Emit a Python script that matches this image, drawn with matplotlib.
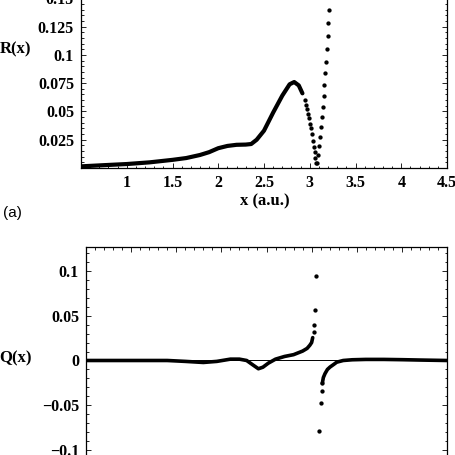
import matplotlib
matplotlib.use("Agg")
import matplotlib.pyplot as plt
from matplotlib.ticker import FixedLocator, FixedFormatter, AutoMinorLocator

# ---- data ----
# R(x), dense part (drawn as a thick line of merged dots)
r_line_x = [0.51, 0.75, 1.0, 1.25, 1.5, 1.65, 1.8, 1.9, 2.0, 2.1, 2.2, 2.3, 2.36,
            2.42, 2.5, 2.6, 2.7, 2.78, 2.83, 2.88, 2.92]
r_line_y = [0.0015, 0.0025, 0.0035, 0.005, 0.0072, 0.0088, 0.0115, 0.014, 0.0175,
            0.0195, 0.0205, 0.0207, 0.0212, 0.025, 0.033, 0.049, 0.064, 0.074,
            0.076, 0.073, 0.066]
# R(x), sparse dots around the zero
r_dot_x = [2.945, 2.958, 2.970, 2.980, 2.991, 3.002, 3.013, 3.024,
           3.035, 3.045, 3.054, 3.061, 3.067,
           3.078, 3.089, 3.097, 3.108, 3.119, 3.133, 3.140, 3.151, 3.159, 3.170,
           3.176, 3.187, 3.195, 3.202, 3.213]
r_dot_y = [0.060, 0.056, 0.052, 0.048, 0.044, 0.039, 0.035, 0.030,
           0.024, 0.019, 0.014, 0.0086, 0.004,
           0.0042, 0.0115, 0.0197, 0.0276, 0.0359, 0.0450, 0.0539, 0.0633, 0.0733,
           0.0836, 0.0939, 0.1053, 0.1168, 0.1283, 0.140]

# Q(x), dense parts on both sides of the pole
q_left_x = [0.5, 1.0, 1.4, 1.6, 1.8, 1.95, 2.1, 2.2, 2.28, 2.35, 2.41, 2.46, 2.52,
            2.6, 2.7, 2.8, 2.9, 2.95, 2.98, 3.0, 3.012]
q_left_y = [0.0, 0.0, 0.0, -0.001, -0.0022, -0.001, 0.0015, 0.0015, 0.0, -0.005,
            -0.0092, -0.0075, -0.003, 0.0015, 0.0045, 0.0065, 0.0105, 0.0135,
            0.017, 0.020, 0.0255]
q_right_x = [3.118, 3.13, 3.148, 3.175, 3.204, 3.25, 3.278, 3.35, 3.45, 3.6, 3.8,
             4.0, 4.2, 4.5]
q_right_y = [-0.0256, -0.019, -0.0147, -0.010, -0.0073, -0.004, -0.0019, 0.0,
             0.0008, 0.0012, 0.0012, 0.0009, 0.0005, 0.0]
# Q(x), sparse dots next to the pole
q_dot_x = [3.023, 3.030, 3.041, 3.049, 3.085, 3.100, 3.112, 3.118]
q_dot_y = [0.0317, 0.040, 0.0565, 0.0947, -0.079, -0.0475, -0.034, -0.0256]

x_ticks = [1, 1.5, 2, 2.5, 3, 3.5, 4, 4.5]
x_labels = ["1", "1.5", "2", "2.5", "3", "3.5", "4", "4.5"]
r_ticks = [0.025, 0.05, 0.075, 0.1, 0.125, 0.15]
r_labels = ["0.025", "0.05", "0.075", "0.1", "0.125", "0.15"]
q_ticks = [-0.1, -0.05, 0, 0.05, 0.1]
q_labels = ["\u22120.1", "\u22120.05", "0", "0.05", "0.1"]

W = H = 455.0
serif = "Liberation Serif"
tick_font = dict(family=serif, weight="bold", size=11.5)

fig = plt.figure(figsize=(4.55, 4.55), dpi=100)


def px_axes(left, right, top, bottom):
    return fig.add_axes([left / W, 1 - bottom / H, (right - left) / W, (bottom - top) / H])


def style(ax, xt, xl, yt, yl):
    ax.xaxis.set_major_locator(FixedLocator(xt))
    ax.xaxis.set_major_formatter(FixedFormatter(xl))
    ax.yaxis.set_major_locator(FixedLocator(yt))
    ax.yaxis.set_major_formatter(FixedFormatter(yl))
    ax.xaxis.set_minor_locator(AutoMinorLocator(5))
    ax.yaxis.set_minor_locator(AutoMinorLocator(5))
    ax.tick_params(which="both", direction="in", top=True, right=True, width=0.6)
    ax.tick_params(which="major", length=3.5, pad=5)
    ax.tick_params(which="minor", length=1.8)
    for lab in ax.get_xticklabels() + ax.get_yticklabels():
        lab.set_fontproperties(matplotlib.font_manager.FontProperties(**tick_font))
    for s in ax.spines.values():
        s.set_linewidth(0.9)


# top panel (its top edge lies above the picture)
ax1 = px_axes(81, 447, -13, 168)
ax1.plot(r_line_x, r_line_y, color="black", lw=3.0, solid_capstyle="round")
ax1.plot(r_dot_x, r_dot_y, "o", color="black", ms=3.1, mew=0)
ax1.set_xlim(0.5, 4.5)
ax1.set_ylim(0, 0.16)
style(ax1, x_ticks, x_labels, r_ticks, r_labels)

# bottom panel (its bottom edge lies below the picture)
ax2 = px_axes(86, 447, 247.5, 469)
ax2.axhline(0, color="black", lw=0.7)
ax2.plot(q_left_x, q_left_y, color="black", lw=2.6, solid_capstyle="round")
ax2.plot(q_right_x, q_right_y, color="black", lw=2.6, solid_capstyle="round")
ax2.plot(q_dot_x, q_dot_y, "o", color="black", ms=3.1, mew=0)
ax2.set_xlim(0.5, 4.5)
ax2.set_ylim(-0.121, 0.126)
style(ax2, x_ticks, x_labels, q_ticks, q_labels)

label_font = dict(family=serif, weight="bold", size=12, ha="center", va="center")
fig.text(16 / W, 1 - 49 / H, "R(x)", **label_font)
fig.text(16 / W, 1 - 358 / H, "Q(x)", **label_font)
fig.text(265 / W, 1 - 201 / H, "x (a.u.)", **label_font)
fig.text(12 / W, 1 - 213 / H, "(a)", family="Liberation Sans", size=11,
         ha="center", va="center")

fig.savefig("out.png", dpi=100)
